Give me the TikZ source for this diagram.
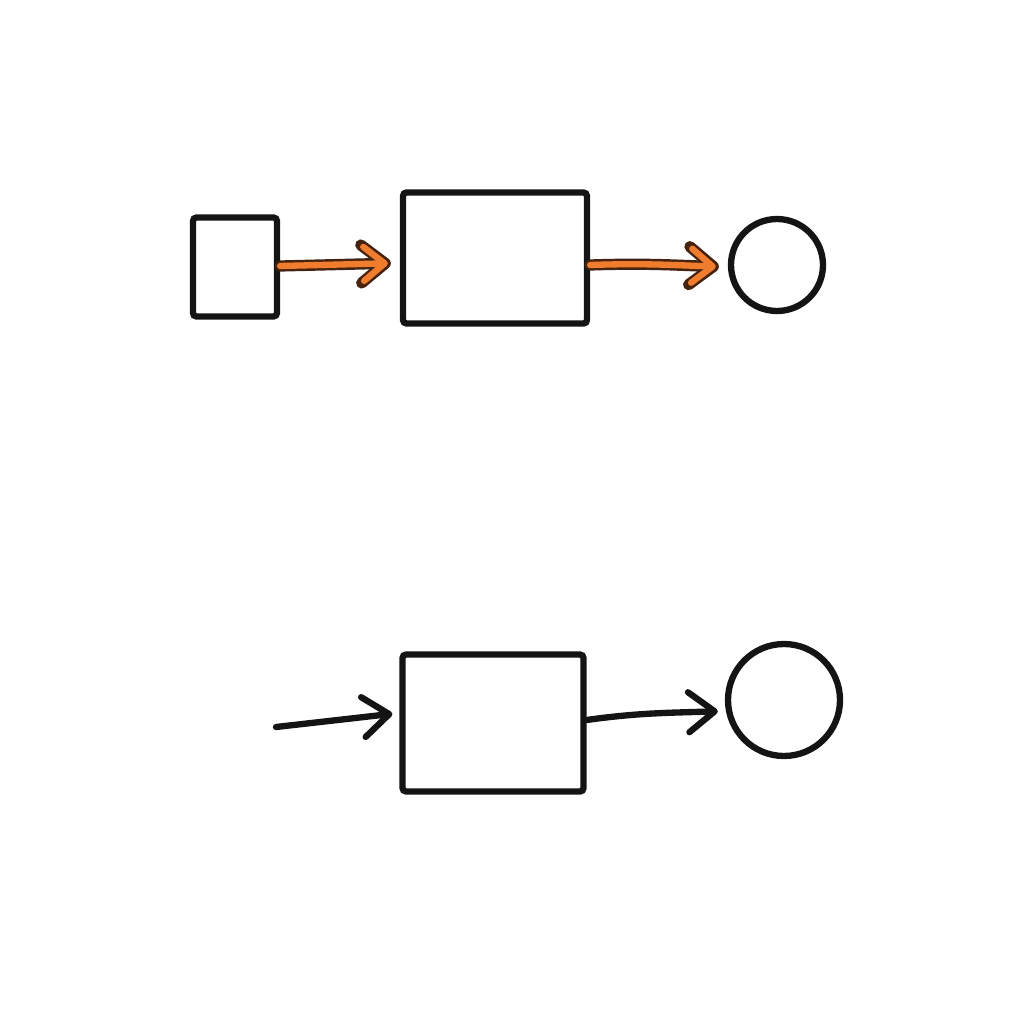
\documentclass[tikz,border=0pt]{standalone}
\usepackage{tikz}
\usetikzlibrary{arrows.meta,positioning}

\definecolor{penink}{RGB}{20,20,20}
\definecolor{markorange}{RGB}{240,125,45}
\definecolor{markbrown}{RGB}{70,35,15}

\tikzset{
  box/.style={draw=penink, line width=1.8pt, rounded corners=1pt, inner sep=0pt},
  ring/.style={draw=penink, line width=1.8pt, circle, inner sep=0pt},
  flow/.style={draw=penink, line width=1.8pt, line cap=round, shorten >=0.7mm,
    -{Straight Barb[length=2.6mm,width=4mm,round]}},
  hiflow/.style={preaction={draw=markbrown, line width=3.2pt, line cap=round, shorten >=0.9mm,
    -{Straight Barb[length=2.4mm,width=3.8mm,round]}},
    draw=markorange, line width=1.8pt, line cap=round, shorten >=1.2mm,
    -{Straight Barb[length=2.1mm,width=3.4mm,round]}}
}

\begin{document}
\begin{tikzpicture}[x=0.1mm,y=-0.1mm]
      \useasboundingbox (0,0) rectangle (1024,1024);
      % top row
      \node[box, minimum width=8.4mm, minimum height=9.9mm] (small) at (235,267) {};
      \node[box, minimum width=18.4mm, minimum height=13.1mm] (blockA) at (495,258) {};
      \node[ring, minimum size=9.2mm] (endA) at (777,265) {};
      \draw[hiflow] (small.east |- 0,266) -- (blockA.west |- 0,263);
      \draw[hiflow] (blockA.east |- 0,265) to[out=2,in=178] (endA.west |- 0,267);
      % bottom row
      \coordinate (inlet) at (276,727);
      \node[box, minimum width=18.1mm, minimum height=13.7mm] (blockB) at (493,723) {};
      \node[ring, minimum size=11.2mm] (endB) at (784,700) {};
      \draw[flow] (inlet) -- (blockB.west |- 0,713);
      \draw[flow] (blockB.east |- 0,720) to[out=8,in=182] (endB.west |- 0,711);
    \end{tikzpicture}
\end{document}
